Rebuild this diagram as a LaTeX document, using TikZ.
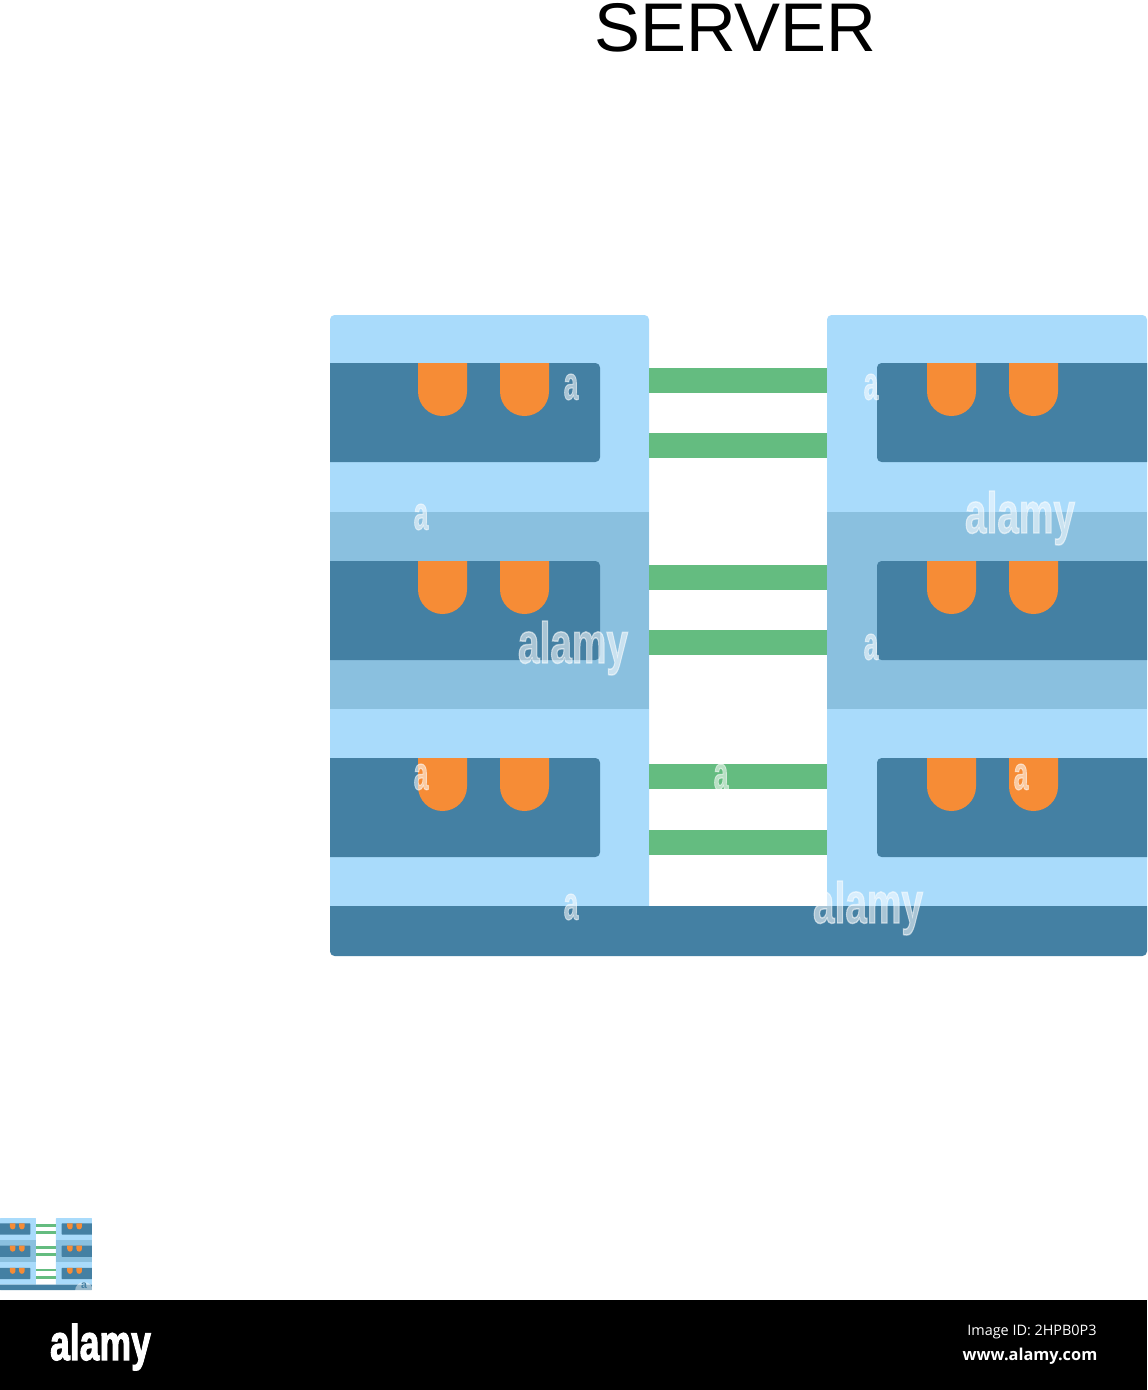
\documentclass[tikz,border=0pt]{standalone}
\usepackage{fontspec}
\setmainfont{Liberation Sans}
\newfontfamily\infofont{Open Sans}
\newfontfamily\markfont{Liberation Sans}[UprightFont=* Bold,FakeBold=2.5]
\definecolor{panelblue}{HTML}{A9DBFB}
\definecolor{bandblue}{HTML}{8AC0DF}
\definecolor{drawerblue}{HTML}{4480A3}
\definecolor{ledorange}{HTML}{F68C36}
\definecolor{linkgreen}{HTML}{64BC80}

\begin{document}
\begin{tikzpicture}[x=0.02cm,y=-0.02cm,every node/.style={inner sep=0pt,outer sep=0pt},
 icon corner/.style={rounded corners=2.6pt},
 markbig/.style={text=white,text opacity=0.55,xscale=0.67,font=\markfont\fontsize{33}{33}\selectfont},
 marksmall/.style={text=white,text opacity=0.55,xscale=0.55,font=\markfont\fontsize{27}{27}\selectfont},
 serverpic/.pic={
  % side panels
  \fill[panelblue] (0,591) [icon corner] -- (0,0) -- (319,0) [sharp corners] -- (319,591) -- cycle;
  \fill[panelblue] (497,591) [icon corner] -- (497,0) -- (817,0) [sharp corners] -- (817,591) -- cycle;
  \fill[bandblue] (0,197) rectangle (319,394);
  \fill[bandblue] (497,197) rectangle (817,394);
  % drawers, lamps and links
  \foreach \Y/\A/\B in {48/53/118,246/250/315,443/449/515}
  {\fill[drawerblue] (0,\Y) [icon corner] -- (270,\Y) -- (270,\Y+99) [sharp corners] -- (0,\Y+99) -- cycle;
   \fill[drawerblue] (817,\Y) [icon corner] -- (547,\Y) -- (547,\Y+99) [sharp corners] -- (817,\Y+99) -- cycle;
   \foreach \X in {88,170,597,679}
    \fill[ledorange] (\X,\Y) -- (\X,\Y+28.5) arc[start angle=180,end angle=0,radius=24.5]
     -- (\X+49,\Y) -- cycle;
   \fill[linkgreen] (319,\A) rectangle (497,\A+25);
   \fill[linkgreen] (319,\B) rectangle (497,\B+25);
  }
  % base plate
  \fill[drawerblue] (0,591) [icon corner] -- (0,641) -- (817,641) [sharp corners] -- (817,591) -- cycle;
 }]

  \useasboundingbox (0,0) rectangle (1147,1390);
  \fill[white] (0,0) rectangle (1147,1390);

  \node[anchor=base,font=\fontsize{39.2}{39.2}\selectfont] (title) at (735.5,51) {SERVER};

  \pic at (330,315) {serverpic};
  \pic[scale=0.1126,icon corner/.style={rounded corners=0.3pt}] at (0,1218) {serverpic};

  \foreach \X/\Y [count=\N] in {571/387,421/517,871/387,871/647,721/777,421/777,1021/777,571/907}
   \node[marksmall] (marka\N) at (\X,\Y) {a};
  \foreach \X/\Y [count=\N] in {1020/518,573/648,868/908}
   \node[markbig] (markword\N) at (\X,\Y) {alamy};

  \fill[white,opacity=0.45] (84,1291) circle (9);
  \node[text=drawerblue,font=\bfseries\fontsize{6}{6}\selectfont] (marktiny) at (84,1286) {a};

  \fill[black] (0,1300) rectangle (1147,1390);
  \node[text=white,xscale=0.71,font=\markfont\fontsize{28.5}{28.5}\selectfont] (logo) at (100.5,1347) {alamy};
  \node[text=white,font=\infofont\fontsize{8.2}{8.2}\selectfont] (imageid) at (1032,1332) {Image ID: 2HPB0P3};
  \node[text=white,font=\infofont\bfseries\fontsize{9.3}{9.3}\selectfont] (website) at (1030,1356) {www.alamy.com};
\end{tikzpicture}
\end{document}
